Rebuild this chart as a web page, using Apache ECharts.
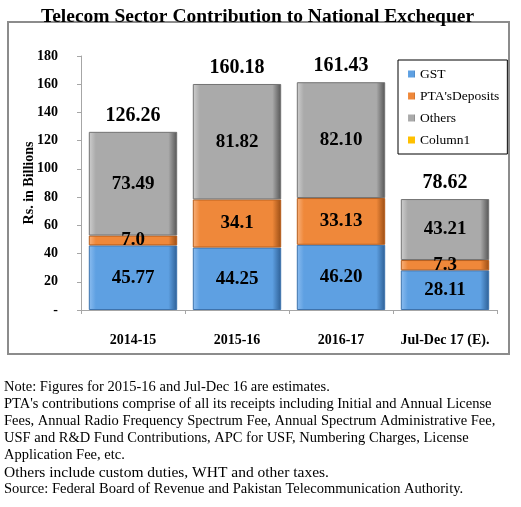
<!DOCTYPE html>
<html>
<head>
<meta charset="utf-8">
<script src="https://cdn.jsdelivr.net/npm/echarts@6/dist/echarts.min.js"></script>
<style>
  html, body { margin: 0; padding: 0; background: #fff; }
  #chart { width: 521px; height: 507px; }
</style>
</head>
<body>
<div id="chart"></div>
<script>
const categories = ['2014-15', '2015-16', '2016-17', 'Jul-Dec 17 (E).']
const gst = [45.77, 44.25, 46.20, 28.11]
const ptaDeposits = [7.0, 34.1, 33.13, 7.3]
const others = [73.49, 81.82, 82.10, 43.21]
const totals = ['126.26', '160.18', '161.43', '78.62']
// labels exactly as printed on the bars
const gstLabels = ['45.77', '44.25', '46.20', '28.11']
const ptaLabels = ['7.0', '34.1', '33.13', '7.3']
const otherLabels = ['73.49', '81.82', '82.10', '43.21']

const notes = [
    'Note: Figures for 2015-16 and Jul-Dec 16 are estimates.',
    "PTA's contributions comprise of all its receipts including Initial and Annual License",
    'Fees, Annual Radio Frequency Spectrum Fee, Annual Spectrum Administrative Fee,',
    'USF and R&D Fund Contributions, APC for USF, Numbering Charges, License',
    'Application Fee, etc.',
    'Others include custom duties, WHT and other taxes.',
    'Source: Federal Board of Revenue and Pakistan Telecommunication Authority.'
]

const serif = '"Liberation Serif", "Times New Roman", serif'

// fake the excel bevel a bit with a side gradient
const bevel = (light, main, dark) => new echarts.graphic.LinearGradient(0, 0, 1, 0, [
    { offset: 0, color: light },
    { offset: 0.08, color: main },
    { offset: 0.9, color: main },
    { offset: 1, color: dark }
])

const insideLabel = (texts) => ({
    show: true,
    position: 'inside',
    fontFamily: serif,
    fontWeight: 'bold',
    fontSize: 19,
    color: '#000',
    formatter: (p) => texts[p.dataIndex]
})

// the "Others include..." line is set in a bigger face in the original
const noteGraphics = notes.map((line, i) => ({
    type: 'text',
    left: 4,
    top: 380 + i * 16.9,
    style: {
        text: line,
        font: (i === 5 ? '15.5px ' : '14.5px ') + serif,
        fill: '#000'
    }
}))

const myChart = echarts.init(document.getElementById('chart'), null, { renderer: 'canvas' })

myChart.setOption({
    animation: false,
    backgroundColor: '#fff',
    title: {
        text: 'Telecom Sector Contribution to National Exchequer',
        left: 36,
        top: 2,
        textStyle: {
            fontFamily: serif,
            fontWeight: 'bold',
            fontSize: 19.5,
            color: '#000'
        }
    },
    legend: {
        orient: 'vertical',
        left: 398,
        top: 60,
        padding: [7, 8, 7, 10],
        itemGap: 8,
        itemWidth: 7,
        itemHeight: 7,
        icon: 'rect',
        itemStyle: { borderWidth: 0 },
        borderColor: '#000',
        borderWidth: 1,
        borderRadius: 0,
        textStyle: { fontFamily: serif, fontSize: 13.5, color: '#000' },
        data: ['GST', "PTA'sDeposits", 'Others', 'Column1']
    },
    grid: {
        left: 81,
        right: 24,
        top: 56,
        bottom: 197
    },
    xAxis: {
        type: 'category',
        data: categories,
        axisLine: { lineStyle: { color: '#a6a6a6' } },
        axisTick: { show: true, length: 4, lineStyle: { color: '#a6a6a6' } },
        axisLabel: {
            interval: 0,
            margin: 23,
            fontFamily: serif,
            fontWeight: 'bold',
            fontSize: 14,
            color: '#000'
        }
    },
    yAxis: {
        type: 'value',
        min: 0,
        max: 180,
        interval: 20,
        name: 'Rs. in Billions',
        nameLocation: 'middle',
        nameGap: 45,
        nameMoveOverlap: false,
        nameTextStyle: {
            fontFamily: serif,
            fontWeight: 'bold',
            fontSize: 14,
            color: '#000'
        },
        splitLine: { show: false },
        axisLine: { show: true, lineStyle: { color: '#a6a6a6' } },
        axisTick: { show: true, length: 4, lineStyle: { color: '#a6a6a6' } },
        axisLabel: {
            margin: 23,
            fontFamily: serif,
            fontWeight: 'bold',
            fontSize: 14,
            color: '#000',
            formatter: (v) => v === 0 ? '-' : v
        }
    },
    series: [
        {
            name: 'GST',
            type: 'bar',
            stack: 'total',
            barCategoryGap: '15%',
            data: gst,
            itemStyle: {
                color: bevel('#8cbdf0', '#5ea0e2', '#2d5f95'),
                borderColor: '#3e73ad',
                borderWidth: 1
            },
            label: insideLabel(gstLabels)
        },
        {
            name: "PTA'sDeposits",
            type: 'bar',
            stack: 'total',
            data: ptaDeposits,
            itemStyle: {
                color: bevel('#f8b27e', '#ef883a', '#9a4d14'),
                borderColor: '#b65d1c',
                borderWidth: 1
            },
            label: insideLabel(ptaLabels)
        },
        {
            name: 'Others',
            type: 'bar',
            stack: 'total',
            data: others,
            itemStyle: {
                color: bevel('#cfcfcf', '#aaaaaa', '#545454'),
                borderColor: '#737373',
                borderWidth: 1
            },
            label: insideLabel(otherLabels)
        },
        {
            // empty excel series, only used to hang the totals on top
            name: 'Column1',
            type: 'bar',
            stack: 'total',
            data: [0, 0, 0, 0],
            itemStyle: { color: '#ffc000', borderWidth: 0 },
            label: {
                show: true,
                position: 'top',
                distance: 6,
                fontFamily: serif,
                fontWeight: 'bold',
                fontSize: 20,
                color: '#000',
                formatter: (p) => totals[p.dataIndex]
            }
        }
    ],
    graphic: [
        {
            type: 'rect',
            shape: { x: 8, y: 22, width: 501, height: 332 },
            style: { fill: 'none', stroke: '#8c8c8c', lineWidth: 2 },
            z: -1
        }
    ].concat(noteGraphics)
})
</script>
</body>
</html>
